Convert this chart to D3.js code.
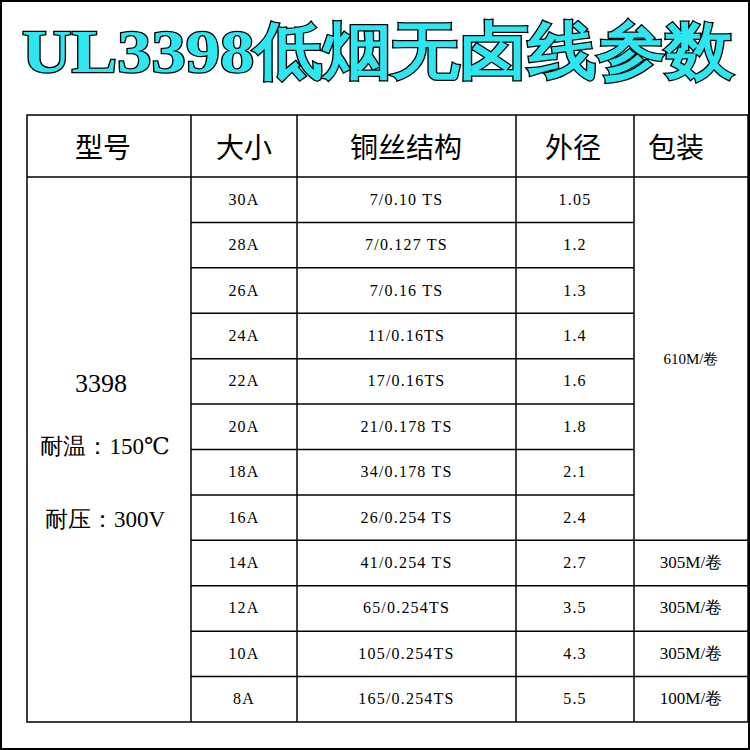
<!DOCTYPE html>
<html><head><meta charset="utf-8">
<script src="https://cdn.jsdelivr.net/npm/d3@7"></script>
<style>body{margin:0;background:#fff}</style></head>
<body><svg id="c" width="750" height="750"></svg>
<script>
const title = "UL3398低烟无卤线参数";
const headers = ["型号","大小","铜丝结构","外径","包装"];
const sizes = ["30A","28A","26A","24A","22A","20A","18A","16A","14A","12A","10A","8A"];
const structures = ["7/0.10 TS","7/0.127 TS","7/0.16 TS","11/0.16TS","17/0.16TS","21/0.178 TS","34/0.178 TS","26/0.254 TS","41/0.254 TS","65/0.254TS","105/0.254TS","165/0.254TS"];
const diameters = ["1.05","1.2","1.3","1.4","1.6","1.8","2.1","2.4","2.7","3.5","4.3","5.5"];
const packGroups = [{label:"610M/卷",from:0,to:7},{label:"305M/卷",from:8,to:8},{label:"305M/卷",from:9,to:9},{label:"305M/卷",from:10,to:10},{label:"100M/卷",from:11,to:11}];
const modelLines = ["3398","耐温：150℃","耐压：300V"];

const svg = d3.select("#c");
const colEdges = [27,191,297,516,634,748];
const y = d3.scaleBand().domain(d3.range(sizes.length)).range([177,722]);
const serif = "'Liberation Serif','DejaVu Serif',serif";
const cjk = "'Noto Sans CJK SC',sans-serif";

svg.append("rect").attr("x",1).attr("y",1).attr("width",748).attr("height",748).attr("fill","none").attr("stroke","#000").attr("stroke-width",2);

svg.append("text").attr("x",378).attr("y",72).attr("text-anchor","middle")
 .attr("font-family","'Liberation Serif',serif").attr("font-weight","bold").attr("font-size",62)
 .attr("fill","#2ee6f0").attr("stroke","#000").attr("stroke-width",2.5).attr("paint-order","stroke")
 .attr("textLength",712).attr("lengthAdjust","spacingAndGlyphs").text(title);

const g = svg.append("g").attr("stroke","#000").attr("stroke-width",1.5);
g.append("rect").attr("x",27).attr("y",115).attr("width",721).attr("height",607).attr("fill","none");
g.append("line").attr("x1",27).attr("x2",748).attr("y1",177).attr("y2",177);
colEdges.slice(1,5).forEach(c=>g.append("line").attr("x1",c).attr("x2",c).attr("y1",115).attr("y2",722));
sizes.forEach((d,i)=>{ if(i>0) g.append("line").attr("x1",191).attr("x2",634).attr("y1",y(i)).attr("y2",y(i)); });
packGroups.forEach((p,i)=>{ if(i>0) g.append("line").attr("x1",634).attr("x2",748).attr("y1",y(p.from)).attr("y2",y(p.from)); });

const hdrX = [103,244,406,573,676];
headers.forEach((h,i)=>svg.append("text").attr("x",hdrX[i]).attr("y",158).attr("text-anchor","middle")
  .attr("font-family",cjk).attr("font-size",28).text(h));

const cx = i => (colEdges[i]+colEdges[i+1])/2;
const cols = [sizes,structures,diameters];
cols.forEach((arr,k)=>arr.forEach((v,i)=>svg.append("text").attr("x",cx(k+1)).attr("y",y(i)+y.bandwidth()/2+5)
  .attr("text-anchor","middle").attr("font-family",serif).attr("font-size",16).attr("letter-spacing",1.2).text(v)));

packGroups.forEach(p=>{
  const yc=(y(p.from)+y(p.to)+y.bandwidth())/2;
  svg.append("text").attr("x",cx(4)).attr("y",yc+5).attr("text-anchor","middle")
   .attr("font-family",serif).attr("font-size",p.to>p.from?15:17).text(p.label);
});

const my=[383,445,518];
modelLines.forEach((t,i)=>svg.append("text").attr("x",i==0?101:105).attr("y",my[i]+9).attr("text-anchor","middle")
  .attr("font-family",serif).attr("font-size",i==0?26:23).text(t));
</script></body></html>
